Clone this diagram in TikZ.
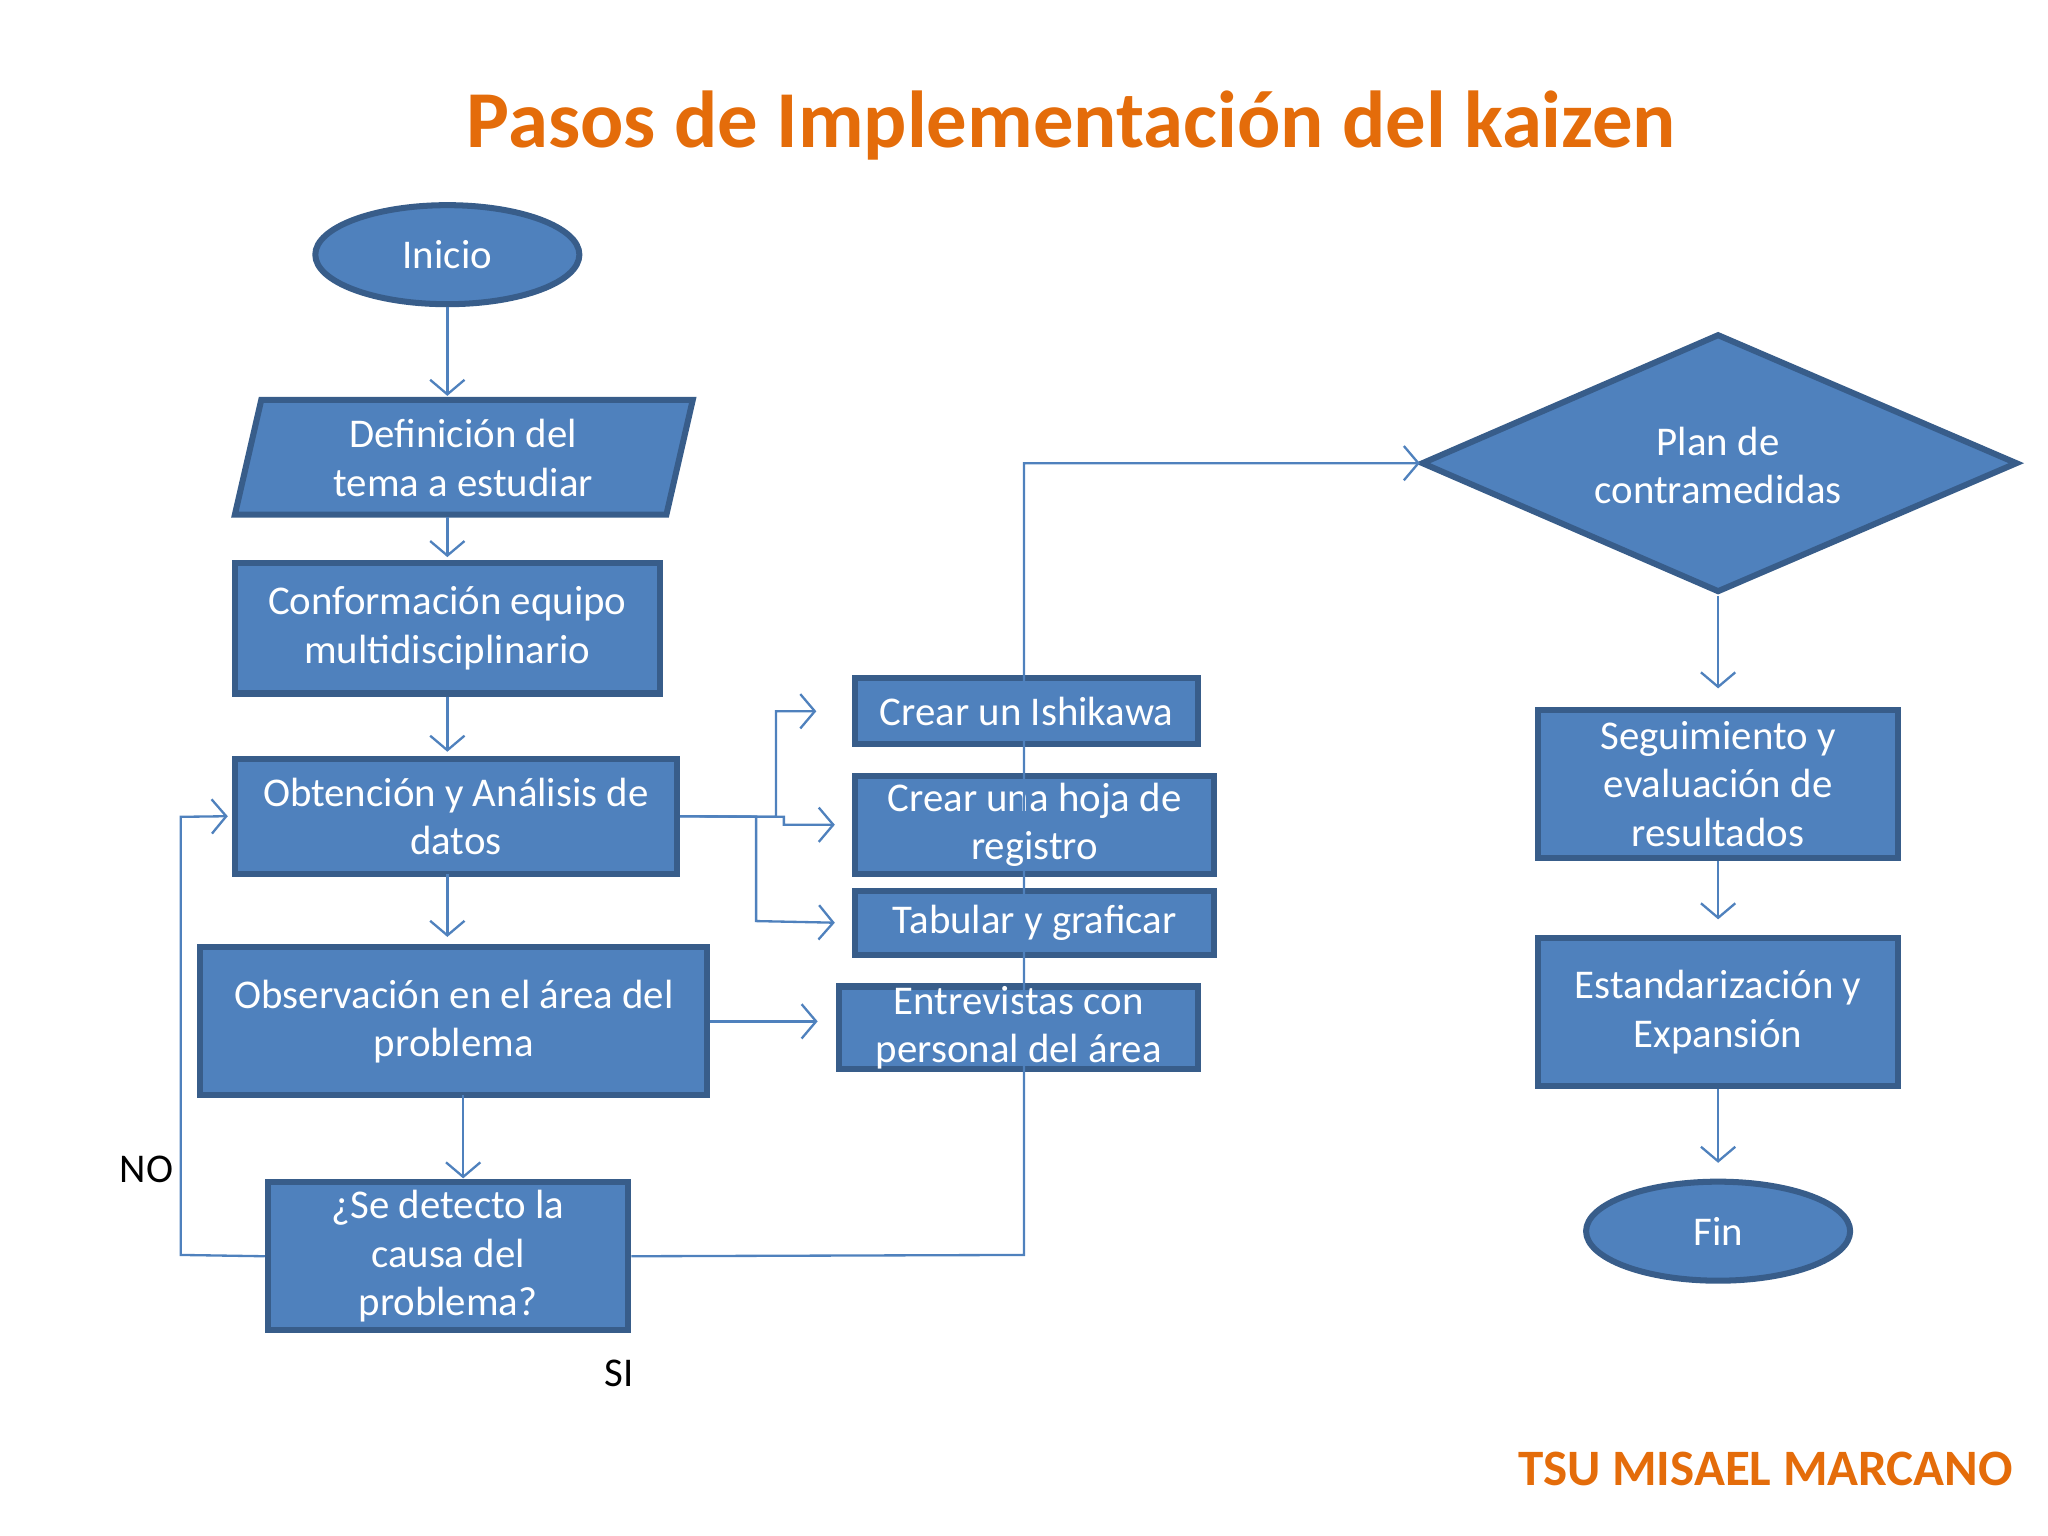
\documentclass[tikz,border=0pt]{standalone}
\usepackage{fontspec}
\setmainfont{Carlito}
\usetikzlibrary{arrows.meta,shapes.geometric}
\definecolor{boxfill}{HTML}{4F81BD}
\definecolor{boxdraw}{HTML}{385D8A}
\definecolor{ttl}{HTML}{E46C0A}
\begin{document}
\begin{tikzpicture}[x=0.01cm,y=-0.01cm,
  box/.style={draw=boxdraw,line width=1.3pt,fill=boxfill,text=white,align=center,inner sep=0pt,font=\fontsize{8.8}{10.4}\selectfont},
  con/.style={draw=boxfill,line width=0.5pt,-{Straight Barb[length=1.1mm,width=2.6mm]}}]
\useasboundingbox (0,0) rectangle (1552,1164);
\node[text=ttl,font=\fontsize{17.4}{20}\selectfont\bfseries] (title) at (812,95) {Pasos de Implementación del kaizen};
\node[box,ellipse,minimum width=2.00cm,minimum height=0.75cm] (ini) at (339,193) {Inicio};
\draw[box] (198,303) -- (525,303) -- (505,390) -- (178,390) -- cycle;
\node[box,draw=none,fill=none,minimum width=3.00cm,minimum height=0.87cm] (def) at (351,347) {Definición del\\tema a estudiar};
\node[box,minimum width=3.22cm,minimum height=0.99cm] (conf) at (339,476) {Conformación equipo\\multidisciplinario};
\node[box,minimum width=3.35cm,minimum height=0.87cm] (obt) at (345.5,618.5) {Obtención y Análisis de\\datos};
\node[box,minimum width=3.84cm,minimum height=1.12cm] (obs) at (344,774) {Observación en el área del\\problema};
\node[box,minimum width=2.73cm,minimum height=1.12cm] (se) at (339.5,952) {¿Se detecto la\\causa del\\problema?};
\node[box,minimum width=2.60cm,minimum height=0.50cm] (ish) at (778,539) {Crear un Ishikawa};
\node[box,minimum width=2.72cm,minimum height=0.74cm] (hoja) at (784,625) {Crear una hoja de\\registro};
\node[box,minimum width=2.72cm,minimum height=0.49cm] (tab) at (784,699.5) {Tabular y graficar};
\node[box,minimum width=2.72cm,minimum height=0.62cm] (ent) at (772,779) {Entrevistas con\\personal del área};
\draw[box] (1078,351) -- (1302,254) -- (1528,351) -- (1302,448) -- cycle;
\node[box,draw=none,fill=none,minimum width=2.00cm,minimum height=0.80cm] (plan) at (1302,353) {Plan de\\contramedidas};
\coordinate (planL) at (1076,351);
\coordinate (planB) at (1302,452);
\node[box,minimum width=2.73cm,minimum height=1.12cm] (seg) at (1302,594) {Seguimiento y\\evaluación de\\resultados};
\node[box,minimum width=2.73cm,minimum height=1.12cm] (est) at (1302,767) {Estandarización y\\Expansión};
\node[box,ellipse,minimum width=2.00cm,minimum height=0.75cm] (fin) at (1302,933) {Fin};
\node[font=\fontsize{8.8}{10}\selectfont] (no) at (111,886) {NO};
\node[font=\fontsize{8.8}{10}\selectfont] (si) at (469,1041) {SI};
\node[text=ttl,font=\fontsize{11}{13}\selectfont\bfseries] (tsu) at (1338,1113) {TSU MISAEL MARCANO};
\draw[con,shorten >=0.03cm] (ini.south) -- (339,303);
\draw[con,shorten >=0.02cm] (339,392) -- (conf.north);
\draw[con,shorten >=0.03cm] (conf.south) -- (conf.south |- obt.north);
\draw[con,shorten >=0.08cm] (339,662) -- (339,718);
\draw[con,shorten >=0.03cm] (351,830) -- (351,896);
\draw[con,shorten >=0.03cm] (se.west) -- (137,951) -- (137,619) -- (obt.west);
\draw[con] (se.east) -- (776,951) -- (776,351) -- (planL);
\draw[con,shorten >=0.27cm] (obt.east) -- (588,619) -- (588,539) -- (ish.west);
\draw[con,shorten >=0.13cm] (obt.east) -- (594,619) -- (594,625) -- (hoja.west);
\draw[con,shorten >=0.13cm] (obt.east) -- (573,619) -- (573,698) -- (tab.west);
\draw[con,shorten >=0.14cm] (obs.east) -- (ent.west |- obs.east);
\draw[con,shorten >=0.14cm] (planB) -- (seg.north);
\draw[con,shorten >=0.12cm] (seg.south) -- (est.north);
\draw[con,shorten >=0.12cm] (est.south) -- (fin.north);
\end{tikzpicture}
\end{document}
